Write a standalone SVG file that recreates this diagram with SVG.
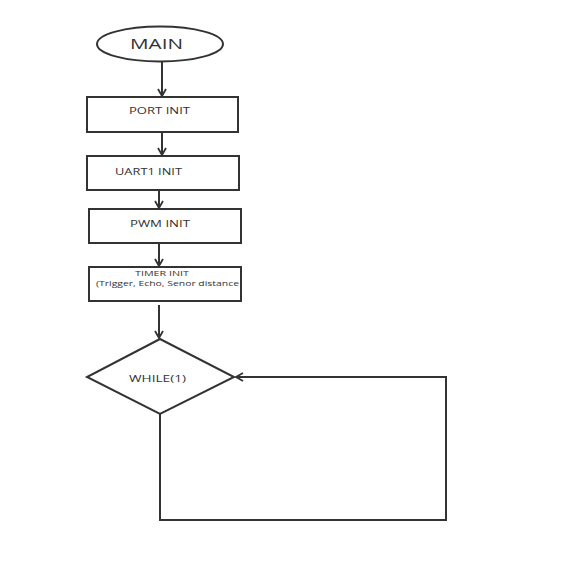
<svg xmlns="http://www.w3.org/2000/svg" width="581" height="578" viewBox="0 0 581 578">
<style>
.shape{fill:#fff;stroke:#333;stroke-width:2}
.conn{fill:none;stroke:#333;stroke-width:2}
text{font-family:"Open Sans","Liberation Sans",sans-serif;fill:#333;text-anchor:start}
.sm{font-size:9px}
.xs{font-size:8px}
</style>
<defs>
<marker id="arr" markerWidth="10" markerHeight="10" refX="8" refY="5" orient="auto" markerUnits="userSpaceOnUse">
<path d="M1,1 L8,5 L1,9" fill="none" stroke="#333" stroke-width="1.8"/>
</marker>
</defs>
<rect width="581" height="578" fill="#fff"/>
<g id="connectors">
<line class="conn" x1="162" y1="62" x2="162" y2="96" marker-end="url(#arr)"/>
<line class="conn" x1="162" y1="132" x2="162" y2="155" marker-end="url(#arr)"/>
<line class="conn" x1="159" y1="190" x2="159" y2="208" marker-end="url(#arr)"/>
<line class="conn" x1="159" y1="243" x2="159" y2="266" marker-end="url(#arr)"/>
<line class="conn" x1="159" y1="305" x2="159" y2="338" marker-end="url(#arr)"/>
<polyline class="conn" points="160,414 160,520 446,520 446,377 236,377" marker-end="url(#arr)"/>
</g>
<g id="main">
<ellipse class="shape" cx="160" cy="44" rx="63" ry="17.5"/>
<text x="130" y="49" style="font-size:14px" textLength="53" lengthAdjust="spacingAndGlyphs">MAIN</text>
</g>
<g id="port-init">
<rect class="shape" x="87" y="97" width="151" height="35"/>
<text class="sm" x="129" y="114" textLength="61" lengthAdjust="spacingAndGlyphs">PORT INIT</text>
</g>
<g id="uart1-init">
<rect class="shape" x="87" y="156" width="152" height="34"/>
<text class="sm" x="115" y="175" textLength="67" lengthAdjust="spacingAndGlyphs">UART1 INIT</text>
</g>
<g id="pwm-init">
<rect class="shape" x="89" y="209" width="152" height="34"/>
<text class="sm" x="130" y="227" textLength="60" lengthAdjust="spacingAndGlyphs">PWM INIT</text>
</g>
<g id="timer-init">
<rect class="shape" x="89" y="267" width="152" height="34"/>
<text class="xs" x="135" y="276" textLength="54" lengthAdjust="spacingAndGlyphs">TIMER INIT</text>
<text class="xs" x="96" y="286" textLength="143" lengthAdjust="spacingAndGlyphs">(Trigger, Echo, Senor distance</text>
</g>
<g id="while">
<polygon class="shape" points="160,339 234,377 160,414 87,377"/>
<text class="sm" x="129" y="382" textLength="57" lengthAdjust="spacingAndGlyphs">WHILE(1)</text>
</g>
</svg>
